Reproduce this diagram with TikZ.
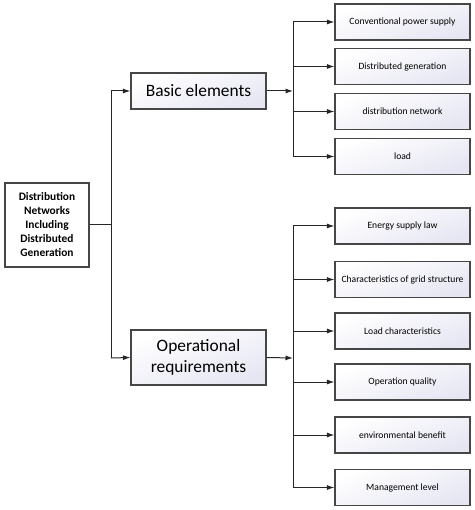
\documentclass[tikz,border=0pt]{standalone}
\usepackage{fontspec}
\setmainfont{Carlito}
\usetikzlibrary{arrows.meta}

\definecolor{boxline}{RGB}{70,70,70}
\definecolor{boxfill}{RGB}{230,230,243}

\begin{document}
\begin{tikzpicture}[x=1pt,y=-1pt]
		\tikzstyle {item box} = [draw=boxline, line width=1.1pt, top color=white, bottom color=boxfill, shading angle=20, minimum width=135pt, minimum height=36pt, inner sep=0pt, font=\fontsize{9.6}{11}\selectfont]
		\tikzstyle {group box} = [item box, minimum height=36pt, align=center, font=\fontsize{17.4}{21}\selectfont]
		\tikzstyle {link} = [line width=1pt, draw=black!85]
		\tikzstyle {tip} = [-{Latex[length=7.5pt,width=5pt]}]

		\useasboundingbox (0,0) rectangle (474,510);

		\node[draw=boxline, line width=1.1pt, fill=white, minimum width=84pt, minimum height=84pt, align=center, font=\bfseries\fontsize{11.4}{14}\selectfont] (root) at (47,225) {Distribution\\Networks\\Including\\Distributed\\Generation};

		\node[group box] (basic) at (198.5,91) {Basic elements};
		\node[group box, minimum height=55pt] (oper) at (198.5,357.5) {Operational\\requirements};

		\node[item box] (conv) at (402.5,22) {Conventional power supply};
		\node[item box] (dgen) at (402.5,66.5) {Distributed generation};
		\node[item box] (dnet) at (402.5,111.5) {distribution network};
		\node[item box] (load) at (402.5,156.5) {load};

		\node[item box] (law) at (402.5,226) {Energy supply law};
		\node[item box] (grid) at (402.5,279.5) {Characteristics of grid structure};
		\node[item box] (lchar) at (402.5,331) {Load characteristics};
		\node[item box] (qual) at (402.5,382) {Operation quality};
		\node[item box] (env) at (402.5,435) {environmental benefit};
		\node[item box] (mgmt) at (402.5,487.5) {Management level};

		\coordinate (t1) at (111,91);
		\coordinate (t2) at (111,358);
		\coordinate (b0) at (293,91);
		\coordinate (o0) at (293,358);

		\draw[link] (root.east) -- (root.east -| t1);
		\draw[link] (t1) -- (t2);
		\draw[link,tip] (t1) -- (basic.west);
		\draw[link,tip] (t2) -- (oper.west);

		\draw[link,tip] (basic.east) -- (b0);
		\draw[link] (conv.west -| b0) -- (load.west -| b0);
		\foreach \n in {conv,dgen,dnet,load}
			\draw[link,tip] (\n.west -| b0) -- (\n.west);

		\draw[link,tip] (oper.east) -- (o0);
		\draw[link] (law.west -| o0) -- (mgmt.west -| o0);
		\foreach \n in {law,grid,lchar,qual,env,mgmt}
			\draw[link,tip] (\n.west -| o0) -- (\n.west);
	\end{tikzpicture}
\end{document}
